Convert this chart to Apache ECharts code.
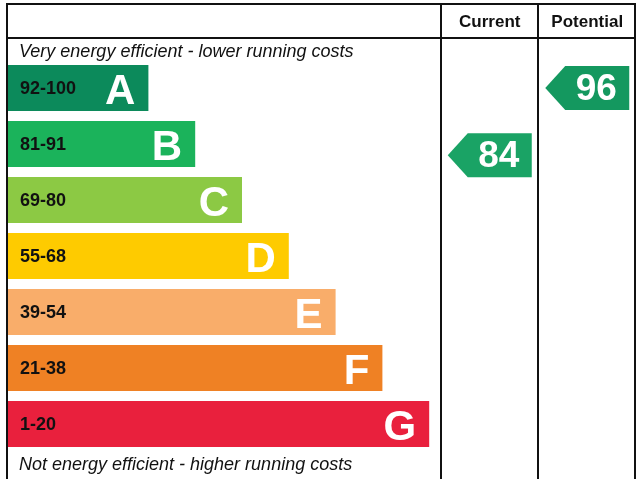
<!DOCTYPE html>
<html>
<head>
<meta charset="utf-8">
<script src="https://cdn.jsdelivr.net/npm/echarts@6/dist/echarts.min.js"></script>
<style>html,body{margin:0;padding:0;background:#fff;}#c{width:640px;height:479px;}</style>
</head>
<body>
<div id="c"></div>
<script>
// ---- data ----
var bands = ['A', 'B', 'C', 'D', 'E', 'F', 'G'];
var rangeLabels = ['92-100', '81-91', '69-80', '55-68', '39-54', '21-38', '1-20'];
var rangeLow = [92, 81, 69, 55, 39, 21, 1];
var rangeHigh = [100, 91, 80, 68, 54, 38, 20];
var barLength = [3, 4, 5, 6, 7, 8, 9];
var bandColors = ['#0c8a5b', '#1bb35b', '#8cc944', '#fecb00', '#f9ad6a', '#ef8124', '#e9203d'];
var columns = ['Current', 'Potential'];
var ratings = [84, 96];
var arrowColors = ['#1aa365', '#14985f'];
var topText = 'Very energy efficient - lower running costs';
var bottomText = 'Not energy efficient - higher running costs';

var FONT = "'Liberation Sans', Arial, sans-serif";
var chart = echarts.init(document.getElementById('c'), null, {renderer: 'canvas'});

function bandOf(v) {
  for (var i = 0; i < bands.length; i++) {
    if (v >= rangeLow[i] && v <= rangeHigh[i]) return i;
  }
  return bands.length - 1;
}

var option = {
  backgroundColor: '#ffffff',
  animation: false,
  grid: [
    {left: 8, top: 60, width: 468, height: 392},
    {left: 441, top: 60, width: 195, height: 392}
  ],
  xAxis: [
    {gridIndex: 0, type: 'value', min: 0, max: 10, show: false},
    {gridIndex: 1, type: 'category', data: columns, position: 'top', offset: 38,
     axisLine: {show: false}, axisTick: {show: false}, splitLine: {show: false},
     axisLabel: {margin: 0, verticalAlign: 'middle', color: '#111', fontFamily: FONT,
                 fontWeight: 'bold', fontSize: 17}}
  ],
  yAxis: [
    {gridIndex: 0, type: 'category', data: bands, inverse: true, show: false},
    {gridIndex: 1, type: 'category', data: bands, inverse: true, show: false}
  ],
  series: [
    {
      type: 'bar', xAxisIndex: 0, yAxisIndex: 0, barWidth: 46,
      data: barLength.map(function (v, i) { return {value: v, itemStyle: {color: bandColors[i]}}; }),
      label: {show: true, position: 'insideLeft', distance: 12, offset: [0, 1],
              formatter: function (p) { return rangeLabels[p.dataIndex]; },
              color: '#111', fontFamily: FONT, fontWeight: 'bold', fontSize: 18}
    },
    {
      type: 'bar', xAxisIndex: 0, yAxisIndex: 0, barWidth: 46, barGap: '-100%',
      data: barLength.slice(),
      itemStyle: {color: 'rgba(0,0,0,0)'},
      label: {show: true, position: 'insideRight', distance: 13, offset: [0, 4],
              formatter: function (p) { return bands[p.dataIndex]; },
              color: '#ffffff', fontFamily: FONT, fontWeight: 'bold', fontSize: 42}
    },
    {
      type: 'custom', xAxisIndex: 1, yAxisIndex: 1,
      data: ratings.map(function (v, i) { return [i, v]; }),
      renderItem: function (params, api) {
        var col = api.value(0), v = api.value(1);
        var b = bandOf(v);
        var c = api.coord([col, b]);
        var bandH = api.size([0, 1])[1];
        var frac = (rangeHigh[b] - v) / (rangeHigh[b] - rangeLow[b]);
        var cy = c[1] - bandH / 2 + frac * bandH;
        var cx = c[0];
        var hw = 42, hh = 22, tip = 20;
        return {
          type: 'group',
          children: [
            {type: 'polygon', shape: {points: [
              [cx - hw, cy], [cx - hw + tip, cy - hh], [cx + hw, cy - hh],
              [cx + hw, cy + hh], [cx - hw + tip, cy + hh]]},
             style: {fill: arrowColors[params.dataIndex]}},
            {type: 'text', style: {text: String(v), x: cx + 9, y: cy + 2, align: 'center',
              verticalAlign: 'middle', fill: '#fff', font: 'bold 37px ' + FONT}}
          ]
        };
      }
    }
  ],
  graphic: [
    {type: 'rect', shape: {x: 7, y: 4, width: 628, height: 490}, style: {fill: null, stroke: '#111', lineWidth: 2}, z: 100},
    {type: 'line', shape: {x1: 7, y1: 38, x2: 635, y2: 38}, style: {stroke: '#111', lineWidth: 2}, z: 100},
    {type: 'line', shape: {x1: 441, y1: 4, x2: 441, y2: 494}, style: {stroke: '#111', lineWidth: 2}, z: 100},
    {type: 'line', shape: {x1: 538, y1: 4, x2: 538, y2: 494}, style: {stroke: '#111', lineWidth: 2}, z: 100},
    {type: 'text', left: 19, top: 43, style: {text: topText, fill: '#111', font: 'italic 18px ' + FONT}},
    {type: 'text', left: 19, top: 456, style: {text: bottomText, fill: '#111', font: 'italic 18px ' + FONT}}
  ]
};
chart.setOption(option);
</script>
</body>
</html>
